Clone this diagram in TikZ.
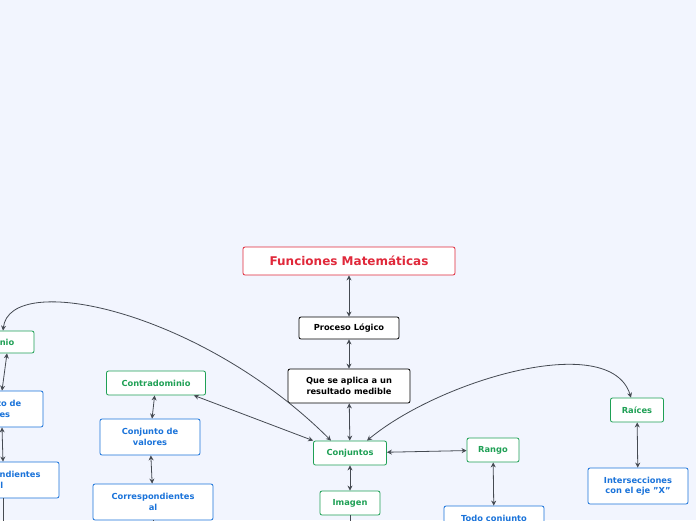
\documentclass[tikz,border=0pt]{standalone}
\usepackage{fontspec}
\setmainfont{DejaVu Sans}
\usetikzlibrary{arrows.meta}
\definecolor{bg}{HTML}{F2F5FE}
\definecolor{gr}{HTML}{1FA055}
\definecolor{bl}{HTML}{1A73DA}
\definecolor{rd}{HTML}{E0283A}
\definecolor{ln}{HTML}{454A52}
\tikzset{
 box/.style={draw, fill=white, rounded corners=2pt, line width=0.8pt, align=center, font=\bfseries\fontsize{8.3}{10.5}\selectfont, inner sep=0pt},
 blk/.style={box, draw=black, text=black},
 grn/.style={box, draw=gr, text=gr},
 blu/.style={box, draw=bl, text=bl},
 con/.style={draw=ln, line width=0.8pt, {Stealth[length=5pt,width=5pt]}-{Stealth[length=5pt,width=5pt]}}
}
\begin{document}
\begin{tikzpicture}[x=1pt,y=-1pt]
\fill[bg] (0,0) rectangle (696,520);
\useasboundingbox (0,0) rectangle (696,520);
\begin{scope}
\clip (0,0) rectangle (696,520);
\node[box, draw=rd, text=rd, font=\bfseries\fontsize{12}{14}\selectfont, minimum width=212pt, minimum height=28pt] (t) at (349,261) {Funciones Matemáticas};
\node[blk, minimum width=100pt, minimum height=22pt] (p) at (349,328) {Proceso Lógico};
\node[blk, minimum width=122pt, minimum height=34pt] (q) at (349,386) {Que se aplica a un\\resultado medible};
\node[grn, minimum width=73pt, minimum height=24pt] (c) at (350,453) {Conjuntos};
\node[grn, minimum width=52pt, minimum height=24pt] (r) at (493,450) {Rango};
\node[grn, minimum width=53pt, minimum height=24pt] (ra) at (637,410) {Raíces};
\node[blu, minimum width=100pt, minimum height=36pt] (i) at (638,486) {Intersecciones\\con el eje "X"};
\node[grn, minimum width=60pt, minimum height=24pt] (im) at (350,503) {Imagen};
\node[blu, minimum width=100pt, minimum height=36pt] (tc) at (494,524) {Todo conjunto\\ };
\node[grn, minimum width=99pt, minimum height=24pt] (cd) at (156,383) {Contradominio};
\node[blu, minimum width=100pt, minimum height=36pt] (cv) at (150,437) {Conjunto de\\valores};
\node[blu, minimum width=120pt, minimum height=36pt] (co) at (153,502) {Correspondientes\\al};
\node[grn, minimum width=78pt, minimum height=22pt] (d) at (-5,342) {Dominio};
\node[blu, minimum width=100pt, minimum height=36pt] (dv) at (-7,409) {Conjunto de\\valores};
\node[blu, minimum width=120pt, minimum height=36pt] (dc) at (-1,480) {Correspondientes\\al};
\coordinate (imb) at (350,525);
\coordinate (cob) at (153,525);
\coordinate (dcb) at (3,525);
\draw[con] (t) -- (p);
\draw[con] (p) -- (q);
\draw[con] (q) -- (c);
\draw[con] (c) -- (r);
\draw[con] (c) -- (im);
\draw[con] (r) -- (tc);
\draw[con] (ra) -- (i);
\draw[con] ([xshift=-12pt]cd.south east) -- (c.north west);
\draw[con] (cd) -- (cv);
\draw[con] (cv) -- (co);
\draw[con] ([xshift=12pt]d.south) -- ([xshift=9pt]dv.north);
\draw[con] ([xshift=9pt]dv.south) -- ([xshift=4pt]dc.north);
\draw[con] ([xshift=-19pt]c.north) .. controls (200,310) and (10,270) .. ([xshift=8pt]d.north);
\draw[con] ([xshift=17pt]c.north) .. controls (440,380) and (610,330) .. ([xshift=-6pt]ra.north);
\draw[draw=ln, line width=0.8pt] (im) -- (imb);
\draw[draw=ln, line width=0.8pt] (co) -- (cob);
\draw[draw=ln, line width=0.8pt] (dc.south -| dcb) -- (dcb);
\end{scope}
\end{tikzpicture}
\end{document}
